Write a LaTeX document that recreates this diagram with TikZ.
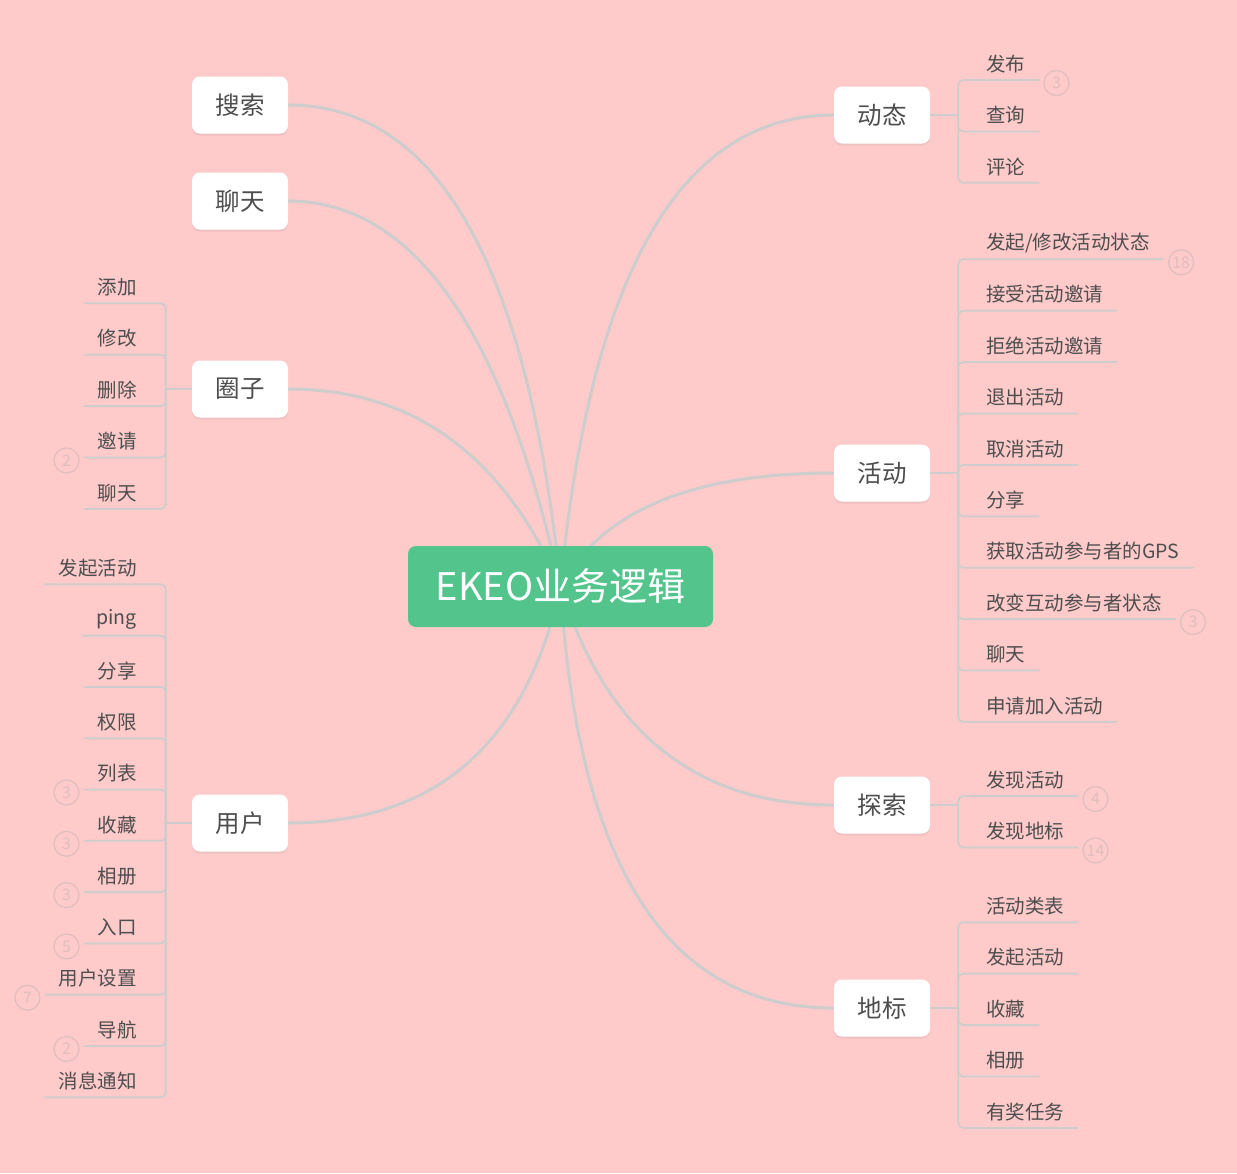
\documentclass[tikz,border=0pt]{standalone}
\usepackage{fontspec}
\setmainfont{Noto Sans CJK SC}
\usetikzlibrary{calc, positioning, backgrounds, shadows}
\definecolor{bgpink}{RGB}{254,202,202}
\definecolor{linegray}{RGB}{205,205,205}
\definecolor{rootgreen}{RGB}{82,196,140}
\definecolor{inkgray}{RGB}{78,78,78}
\definecolor{badgegray}{RGB}{222,190,190}

\begin{document}
\begin{tikzpicture}[
    x=1pt, y=-1pt,
    every node/.style={text=inkgray},
    root/.style={fill=rootgreen, rounded corners=8pt, minimum width=305pt, minimum height=81pt,
        inner sep=0pt, text=white, font=\fontsize{38}{44}\selectfont},
    topic/.style={fill=white, rounded corners=8pt, minimum width=96pt, minimum height=57pt, inner sep=0pt,
        font=\fontsize{24.5}{28}\selectfont,
        drop shadow={shadow xshift=0pt, shadow yshift=-2pt, opacity=0.12}},
    leaf/.style={inner xsep=14pt, inner ysep=0pt, minimum height=32pt, font=\fontsize{19.5}{23}\selectfont},
    rleaf/.style={leaf, anchor=south west},
    lleaf/.style={leaf, anchor=south east},
    badge/.style={circle, draw=badgegray, line width=1.2pt, minimum size=25pt, inner sep=0pt,
        text=badgegray, font=\fontsize{16}{18}\selectfont},
    link/.style={draw=linegray, line width=3pt},
    twig/.style={draw=linegray, line width=1.8pt, rounded corners=5pt},
]
% page colour
\begin{scope}[on background layer]
\fill[bgpink] (0,0) rectangle (1237,1173);
\end{scope}

% centre and main topics
\node[root] (root) at (560.5,586.5) {\raisebox{-2pt}{EKEO业务逻辑}};
\node[topic] (sousuo)   at (240,105)  {搜索};
\node[topic] (liaotian) at (240,201)  {聊天};
\node[topic] (quanzi)   at (240,389)  {圈子};
\node[topic] (yonghu)   at (240,823)  {用户};
\node[topic] (dongtai)  at (882,115)  {动态};
\node[topic] (huodong)  at (882,473)  {活动};
\node[topic] (tansuo)   at (882,805)  {探索};
\node[topic] (dibiao)   at (882,1008) {地标};

% curved links from the centre
\begin{scope}[on background layer]
\foreach \t/\qx/\qy in {sousuo.east/512/105, liaotian.east/475/201, quanzi.east/475/389, yonghu.east/509/823,
                        dongtai.west/605/115, huodong.west/622/473, tansuo.west/628/805, dibiao.west/586/1008}
  \draw[link] (root.center) .. controls ($(root.center)!0.667!(\qx,\qy)$) and ($(\t)!0.667!(\qx,\qy)$) .. (\t);
\end{scope}

% right side leaves
\foreach \t [count=\i] in {发布,查询,评论}
  \node[rleaf] (dt\i) at (972,28.6+51.4*\i) {\t};
\foreach \t [count=\i] in {{发起/修改活动状态},接受活动邀请,拒绝活动邀请,退出活动,取消活动,分享,获取活动参与者的GPS,改变互动参与者状态,聊天,申请加入活动}
  \node[rleaf] (hd\i) at (972,207.9+51.4*\i) {\t};
\foreach \t [count=\i] in {发现活动,发现地标}
  \node[rleaf] (ts\i) at (972,744.6+51.4*\i) {\t};
\foreach \t [count=\i] in {活动类表,发起活动,收藏,相册,有奖任务}
  \node[rleaf] (db\i) at (972,870.9+51.4*\i) {\t};

% left side leaves
\foreach \t [count=\i] in {添加,修改,删除,邀请,聊天}
  \node[lleaf] (qz\i) at (151,251.9+51.4*\i) {\t};
\foreach \t [count=\i] in {发起活动,ping,分享,权限,列表,收藏,相册,入口,用户设置,导航,消息通知}
  \node[lleaf] (yh\i) at (151,533+51.3*\i) {\t};

% tree brackets
\coordinate (dtj) at ($(dongtai.east)+(28,0)$);
\coordinate (hdj) at ($(huodong.east)+(28,0)$);
\coordinate (tsj) at ($(tansuo.east)+(28,0)$);
\coordinate (dbj) at ($(dibiao.east)+(28,0)$);
\coordinate (qzj) at ($(quanzi.west)+(-26,0)$);
\coordinate (yhj) at ($(yonghu.west)+(-26,0)$);
\draw[twig] (dongtai.east) -- (dtj);
\draw[twig] (huodong.east) -- (hdj);
\draw[twig] (tansuo.east) -- (tsj);
\draw[twig] (dibiao.east) -- (dbj);
\draw[twig] (quanzi.west) -- (qzj);
\draw[twig] (yonghu.west) -- (yhj);
\foreach \i in {1,...,3}  \draw[twig] (dtj) |- (dt\i.south east);
\foreach \i in {1,...,10} \draw[twig] (hdj) |- (hd\i.south east);
\foreach \i in {1,2}      \draw[twig] (tsj) |- (ts\i.south east);
\foreach \i in {1,...,5}  \draw[twig] (dbj) |- (db\i.south east);
\foreach \i in {1,...,5}  \draw[twig] (qzj) |- (qz\i.south west);
\foreach \i in {1,...,11} \draw[twig] (yhj) |- (yh\i.south west);

% count badges
\foreach \l/\n in {dt1/3, hd1/18, hd8/3, ts1/4, ts2/14}
  \node[badge, right=4pt of \l.south east, yshift=-3pt] (n\l) {\n};
\foreach \l/\n in {qz4/2, yh5/3, yh6/3, yh7/3, yh8/5, yh9/7, yh10/2}
  \node[badge, left=4pt of \l.south west, yshift=-3pt] (n\l) {\n};
\end{tikzpicture}
\end{document}
